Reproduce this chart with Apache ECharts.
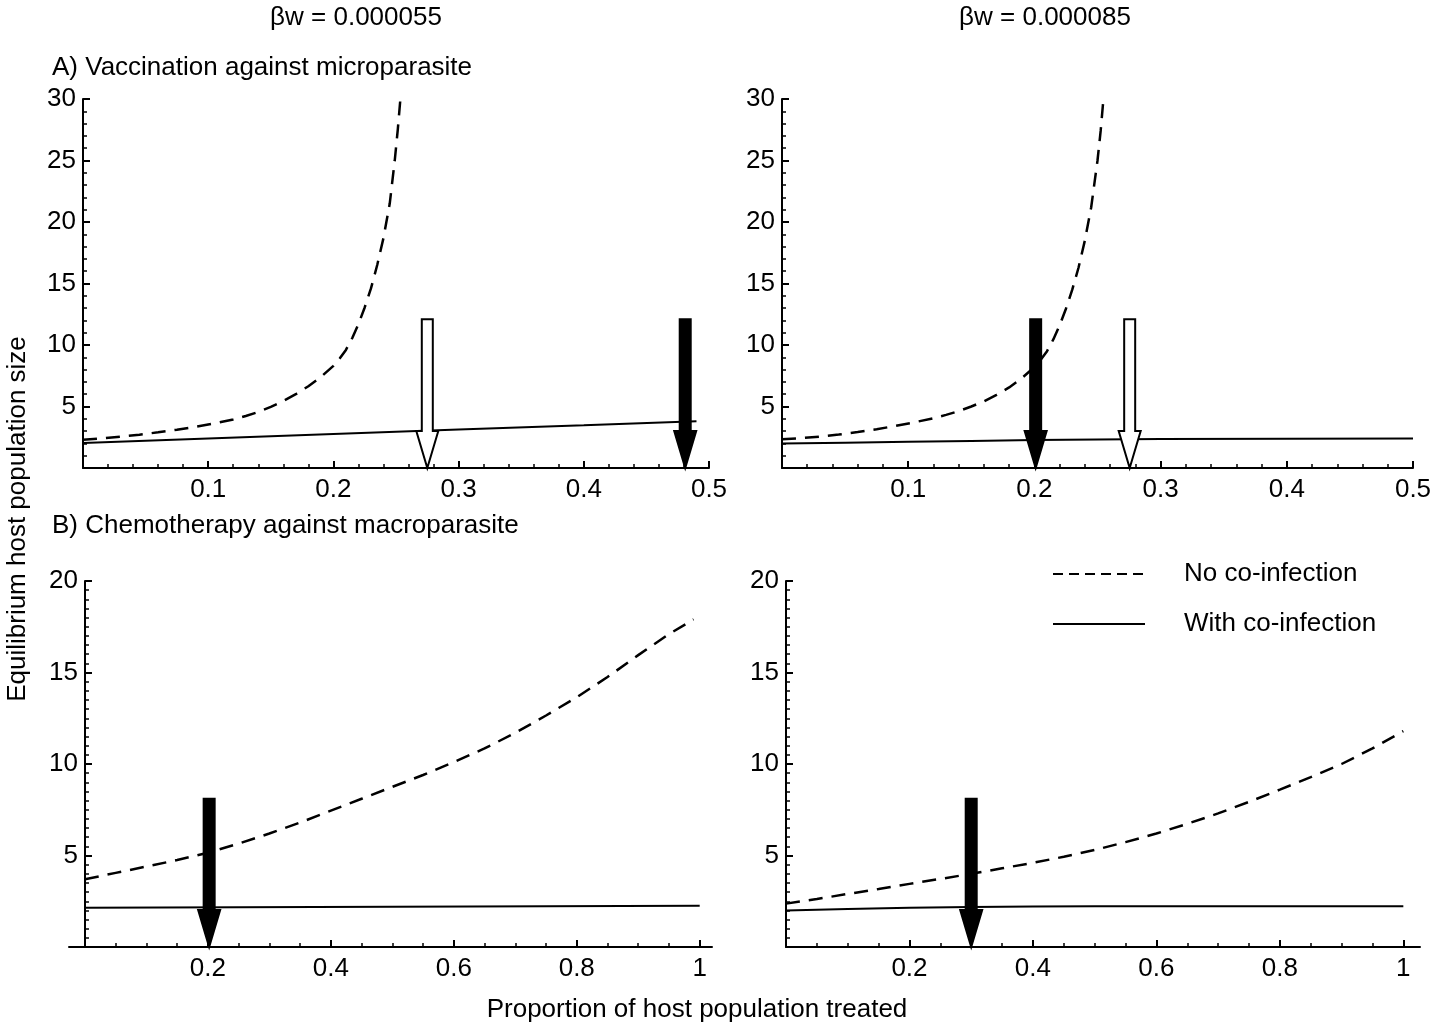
<!DOCTYPE html>
<html>
<head>
<meta charset="utf-8">
<script src="https://cdn.jsdelivr.net/npm/echarts@6/dist/echarts.min.js"></script>
<style>html,body{margin:0;padding:0;background:#fff}#chart{width:1439px;height:1025px}</style>
</head>
<body>
<div id="chart"></div>
<script>
// panel A, bw = 0.000055
var aLeftNoX = [0, 0.015, 0.03, 0.045, 0.06, 0.075, 0.09, 0.105, 0.12, 0.13, 0.14, 0.15, 0.16, 0.17, 0.18, 0.19, 0.2, 0.205, 0.21, 0.215, 0.22, 0.225, 0.23, 0.235, 0.24, 0.245, 0.249, 0.2515, 0.2535];
var aLeftNoY = [2.3, 2.4, 2.55, 2.71, 2.9, 3.11, 3.35, 3.63, 3.95, 4.23, 4.55, 4.97, 5.45, 6.0, 6.65, 7.4, 8.3, 8.9, 9.6, 10.55, 11.7, 13.05, 14.6, 16.5, 18.7, 21.5, 25.0, 27.6, 30];
var aLeftWithX = [0, 0.1, 0.2, 0.3, 0.4, 0.49];
var aLeftWithY = [2.03, 2.4, 2.77, 3.13, 3.47, 3.8];
// panel A, bw = 0.000085
var aRightNoX = [0, 0.015, 0.03, 0.045, 0.06, 0.075, 0.09, 0.105, 0.12, 0.13, 0.14, 0.15, 0.16, 0.17, 0.18, 0.19, 0.2, 0.205, 0.21, 0.215, 0.22, 0.225, 0.23, 0.235, 0.24, 0.245, 0.25, 0.2525, 0.2547];
var aRightNoY = [2.34, 2.43, 2.55, 2.72, 2.92, 3.15, 3.42, 3.72, 4.05, 4.32, 4.62, 5.0, 5.42, 5.95, 6.55, 7.3, 8.2, 8.8, 9.5, 10.45, 11.6, 12.95, 14.5, 16.3, 18.5, 21.2, 25.0, 27.4, 30];
var aRightWithX = [0, 0.05, 0.1, 0.15, 0.2, 0.25, 0.3, 0.4, 0.5];
var aRightWithY = [2.0, 2.06, 2.13, 2.2, 2.27, 2.32, 2.35, 2.38, 2.4];
// panel B, bw = 0.000055
var bLeftNoX = [0, 0.05, 0.1, 0.15, 0.2, 0.25, 0.3, 0.35, 0.4, 0.45, 0.5, 0.55, 0.6, 0.65, 0.7, 0.75, 0.8, 0.85, 0.9, 0.95, 0.99];
var bLeftNoY = [3.7, 4.05, 4.4, 4.75, 5.15, 5.65, 6.2, 6.8, 7.45, 8.1, 8.75, 9.4, 10.1, 10.85, 11.7, 12.65, 13.65, 14.75, 15.95, 17.1, 17.9];
var bLeftWithX = [0, 0.5, 1.0];
var bLeftWithY = [2.15, 2.2, 2.25];
// panel B, bw = 0.000085
var bRightNoX = [0, 0.05, 0.1, 0.15, 0.2, 0.25, 0.3, 0.35, 0.4, 0.45, 0.5, 0.55, 0.6, 0.65, 0.7, 0.75, 0.8, 0.85, 0.9, 0.95, 1.0];
var bRightNoY = [2.37, 2.62, 2.9, 3.17, 3.45, 3.72, 4.0, 4.3, 4.6, 4.93, 5.3, 5.73, 6.2, 6.73, 7.3, 7.93, 8.6, 9.28, 10.0, 10.85, 11.8];
var bRightWithX = [0, 0.1, 0.2, 0.3, 0.4, 0.5, 1.0];
var bRightWithY = [2.0, 2.07, 2.14, 2.19, 2.21, 2.22, 2.22];

// arrows: [x, top of shaft]
var aLeftBlack = [[0.481, 12.1]];
var aLeftWhite = [[0.275, 12.1]];
var aRightBlack = [[0.201, 12.1]];
var aRightWhite = [[0.2755, 12.1]];
var bLeftBlack = [[0.202, 8.1]];
var bRightBlack = [[0.3, 8.1]];

var botXTicks = [0.2, 0.4, 0.6, 0.8, 1];
var botXMinor = [0.05, 0.1, 0.15, 0.25, 0.3, 0.35, 0.45, 0.5, 0.55, 0.65, 0.7, 0.75, 0.85, 0.9, 0.95];

var F = '"Liberation Sans", Helvetica, Arial, sans-serif';
var FS = 26;

function zip(xs, ys) {
    var out = [];
    for (var i = 0; i < xs.length; i++) out.push([xs[i], ys[i]]);
    return out;
}
function fmt(v) {
    if (Math.abs(v) < 1e-9) return '';
    return String(Math.round(v * 10) / 10);
}
var lineAx = {lineStyle: {color: '#000', width: 2}};

function yAx(grid, max, minorSplit, margin) {
    return {
        type: 'value', gridIndex: grid, min: 0, max: max, interval: 5,
        axisLine: {show: true, onZero: true, lineStyle: {color: '#000', width: 2}},
        axisTick: {show: true, inside: true, length: 7, lineStyle: {color: '#000', width: 2}},
        minorTick: {show: true, splitNumber: minorSplit, length: 4, lineStyle: {color: '#000', width: 1.5}},
        axisLabel: {formatter: fmt, color: '#000', fontSize: FS, fontFamily: F, margin: margin},
        splitLine: {show: false}
    };
}
function xTop(grid) {
    return {
        type: 'value', gridIndex: grid, min: 0, max: 0.5, interval: 0.1, position: 'bottom',
        axisLine: lineAx,
        axisTick: {show: true, inside: true, length: 7, lineStyle: {color: '#000', width: 2}},
        minorTick: {show: true, splitNumber: 5, length: 4, lineStyle: {color: '#000', width: 1.5}},
        axisLabel: {formatter: fmt, color: '#000', fontSize: FS, fontFamily: F, margin: 9},
        splitLine: {show: false}
    };
}
function xBot(grid, min, max) {
    return [{
        type: 'value', gridIndex: grid, min: min, max: max, position: 'bottom',
        axisLine: lineAx,
        axisTick: {show: true, inside: true, length: 7, customValues: botXTicks, lineStyle: {color: '#000', width: 2}},
        axisLabel: {customValues: botXTicks, formatter: fmt, color: '#000', fontSize: FS, fontFamily: F, margin: 9},
        splitLine: {show: false}
    }, {
        type: 'value', gridIndex: grid, min: min, max: max, position: 'bottom',
        axisLine: {show: false},
        axisTick: {show: true, inside: true, length: 4, customValues: botXMinor, lineStyle: {color: '#000', width: 1.5}},
        axisLabel: {show: false},
        splitLine: {show: false}
    }];
}

function curve(name, xi, yi, xs, ys, dashed) {
    return {
        name: name, type: 'line', xAxisIndex: xi, yAxisIndex: yi,
        data: zip(xs, ys), showSymbol: false, symbol: 'none', smooth: false,
        lineStyle: {color: '#000', width: dashed ? 2.5 : 2, type: dashed ? [14, 9] : 'solid'},
        itemStyle: {color: '#000'}, z: 2, silent: true
    };
}
function arrow(xi, yi, data, fill) {
    return {
        type: 'custom', xAxisIndex: xi, yAxisIndex: yi, data: data, z: 5, clip: false, silent: true,
        renderItem: function (params, api) {
            var tip = api.coord([api.value(0), 0]);
            var top = api.coord([api.value(0), api.value(1)]);
            var hw = 11, hh = 37, sw = 5.5;
            var x = tip[0], yb = tip[1] - hh;
            return {
                type: 'polygon',
                shape: {points: [[x - sw, top[1]], [x + sw, top[1]], [x + sw, yb], [x + hw, yb], [x, tip[1]], [x - hw, yb], [x - sw, yb]]},
                style: {fill: fill, stroke: '#000', lineWidth: 2}
            };
        }
    };
}

var NO = 'No co-infection', WITH = 'With co-infection';
var xb2 = xBot(2, -0.026, 1.02), xb3 = xBot(3, 0, 1.027);

var option = {
    backgroundColor: '#fff',
    animation: false,
    textStyle: {fontFamily: F},
    grid: [
        {left: 83, top: 99, width: 626, height: 369},
        {left: 782, top: 99, width: 631, height: 369},
        {left: 69, top: 581, width: 643, height: 366},
        {left: 786, top: 581, width: 634, height: 366}
    ],
    xAxis: [xTop(0), xTop(1), xb2[0], xb2[1], xb3[0], xb3[1]],
    // the bottom-left y axis sits on x = 0, its labels are placed from the grid edge
    yAxis: [yAx(0, 30, 5, 7), yAx(1, 30, 5, 7), yAx(2, 20, 10, -9), yAx(3, 20, 10, 7)],
    legend: {
        orient: 'vertical', left: 1052, top: 561, padding: 0, itemWidth: 92, itemHeight: 24, itemGap: 24,
        itemStyle: {opacity: 0},
        data: [{name: NO, lineStyle: {type: [10, 6], width: 2}}, {name: WITH}],
        textStyle: {fontSize: FS, color: '#000', fontFamily: F, padding: [0, 0, 0, 34]}
    },
    series: [
        curve(NO, 0, 0, aLeftNoX, aLeftNoY, true),
        curve(WITH, 0, 0, aLeftWithX, aLeftWithY, false),
        curve(NO, 1, 1, aRightNoX, aRightNoY, true),
        curve(WITH, 1, 1, aRightWithX, aRightWithY, false),
        curve(NO, 2, 2, bLeftNoX, bLeftNoY, true),
        curve(WITH, 2, 2, bLeftWithX, bLeftWithY, false),
        curve(NO, 4, 3, bRightNoX, bRightNoY, true),
        curve(WITH, 4, 3, bRightWithX, bRightWithY, false),
        arrow(0, 0, aLeftBlack, '#000'),
        arrow(0, 0, aLeftWhite, '#fff'),
        arrow(1, 1, aRightBlack, '#000'),
        arrow(1, 1, aRightWhite, '#fff'),
        arrow(2, 2, bLeftBlack, '#000'),
        arrow(4, 3, bRightBlack, '#000')
    ],
    graphic: [
        {type: 'text', x: 356, y: 18, style: {text: 'βw = 0.000055', font: FS + 'px ' + F, fill: '#000', align: 'center', verticalAlign: 'middle'}},
        {type: 'text', x: 1045, y: 18, style: {text: 'βw = 0.000085', font: FS + 'px ' + F, fill: '#000', align: 'center', verticalAlign: 'middle'}},
        {type: 'text', x: 52, y: 68, style: {text: 'A) Vaccination against microparasite', font: FS + 'px ' + F, fill: '#000', align: 'left', verticalAlign: 'middle'}},
        {type: 'text', x: 52, y: 526, style: {text: 'B) Chemotherapy against macroparasite', font: FS + 'px ' + F, fill: '#000', align: 'left', verticalAlign: 'middle'}},
        {type: 'text', x: 697, y: 1010, style: {text: 'Proportion of host population treated', font: FS + 'px ' + F, fill: '#000', align: 'center', verticalAlign: 'middle'}},
        {type: 'text', x: 18, y: 519, rotation: Math.PI / 2, style: {text: 'Equilibrium host population size', font: FS + 'px ' + F, fill: '#000', align: 'center', verticalAlign: 'middle'}}
    ]
};

var myChart = echarts.init(document.getElementById('chart'));
myChart.setOption(option);
</script>
</body>
</html>
